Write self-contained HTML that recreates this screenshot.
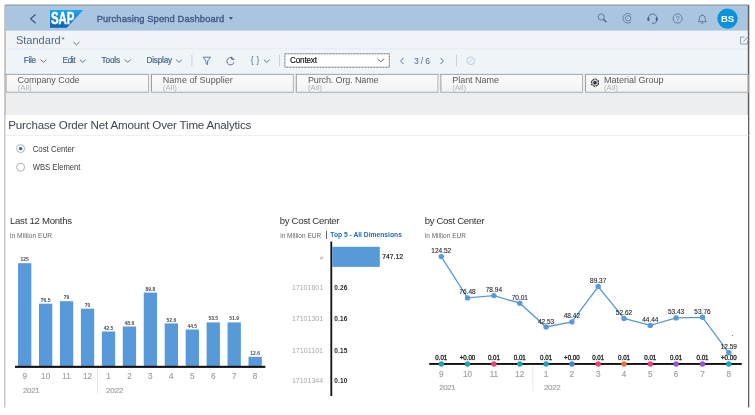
<!DOCTYPE html>
<html><head><meta charset="utf-8"><title>Purchasing Spend Dashboard</title>
<style>
html,body{margin:0;padding:0;background:#fff;}
body{width:755px;height:415px;position:relative;overflow:hidden;font-family:"Liberation Sans",sans-serif;}
#app{position:absolute;left:0;top:0;width:755px;height:415px;display:block;}
</style></head><body>
<svg id="app" width="755" height="415" viewBox="0 0 755 415" font-family="Liberation Sans, sans-serif">
<rect x="5.00" y="5.00" width="743.60" height="25.80" fill="#aac5e0"/>
<rect x="5.00" y="30.80" width="743.60" height="18.20" fill="#f0f4f9"/>
<rect x="5.00" y="49.00" width="743.60" height="25.00" fill="#eff4f9"/>
<rect x="5.00" y="48.20" width="743.60" height="1.00" fill="#e3ebf4"/>
<rect x="5.00" y="73.00" width="743.60" height="1.00" fill="#e0e9f3"/>
<rect x="5.00" y="74.00" width="743.60" height="41.00" fill="#edeef0"/>
<rect x="4.20" y="5.00" width="1.70" height="402.40" fill="#bdbdbd"/>
<rect x="5.00" y="4.50" width="743.60" height="1.00" fill="#8a8f96"/>
<rect x="747.80" y="5.00" width="1.50" height="402.40" fill="#5f5f5f"/>
<g transform="translate(28.00 12.00)"><path d="M7.6 2.4 L2.6 6.8 L7.6 11.2" fill="none" stroke="#3d5a85" stroke-width="1.3"/></g>
<g transform="translate(50.00 10.00)"><defs><linearGradient id="sg" x1="0" y1="0" x2="0" y2="1"><stop offset="0" stop-color="#1ba6ea"/><stop offset="1" stop-color="#0d60b8"/></linearGradient></defs><path d="M0 0 H33.2 L16.8 17.7 H0 Z" fill="url(#sg)"/><text x="0.9" y="14.3" font-family="Liberation Sans, sans-serif" font-weight="bold" font-size="15.6" fill="#fff" stroke="#fff" stroke-width="0.5" textLength="23.6" lengthAdjust="spacingAndGlyphs">SAP</text></g>
<text x="96.70" y="22" font-size="9.4" fill="#3d5a85" textLength="127.50" stroke="#3d5a85" stroke-width="0.35">Purchasing Spend Dashboard</text>
<g transform="translate(228.00 15.00)"><path d="M0.9 1.9 H4.9 L2.9 4.9 Z" fill="#3d5a85"/></g>
<g transform="translate(595.40 11.10)"><circle cx="5.8" cy="5.9" r="3.1" fill="none" stroke="#5b7596" stroke-width="0.9"/><path d="M8 8.2 L11 11.2" stroke="#46638f" stroke-width="1.3"/></g>
<g transform="translate(620.80 11.30)"><path d="M10.4 3.6 A4.8 4.8 0 1 0 10.4 10.4" fill="none" stroke="#5b7596" stroke-width="0.8"/><circle cx="7.4" cy="7" r="2.7" fill="none" stroke="#5b7596" stroke-width="0.8"/></g>
<g transform="translate(645.60 11.50)"><path d="M2.8 8 V6.6 A4.2 4.2 0 0 1 11.2 6.6 V8" fill="none" stroke="#5b7596" stroke-width="1"/><rect x="1.8" y="6" width="2" height="3.4" rx="0.7" fill="#46638f"/><rect x="10.2" y="6" width="2" height="3.4" rx="0.7" fill="#46638f"/><path d="M11.2 9.4 Q11 11.6 8 11.8" fill="none" stroke="#5b7596" stroke-width="0.9"/><circle cx="7.4" cy="11.8" r="0.9" fill="#5b7596"/></g>
<g transform="translate(670.60 11.50)"><circle cx="7" cy="7" r="4.6" fill="none" stroke="#5b7596" stroke-width="0.9"/><text x="7" y="9.6" text-anchor="middle" font-family="Liberation Sans, sans-serif" font-size="7" fill="#5b7596">?</text></g>
<g transform="translate(695.30 11.50)"><path d="M3 10.2 Q4.2 9 4.2 6.6 A2.8 2.8 0 0 1 9.8 6.6 Q9.8 9 11 10.2 Z" fill="none" stroke="#5b7596" stroke-width="0.9" stroke-linejoin="round"/><path d="M6 11.6 H8" stroke="#5b7596" stroke-width="1"/><path d="M7 2.6 V3.8" stroke="#5b7596" stroke-width="0.9"/></g>
<circle cx="727.5" cy="18.6" r="10.2" fill="#0b92db"/>
<text x="727.60" y="22" font-size="9.6" fill="#fff" text-anchor="middle" font-weight="bold">BS</text>
<text x="15.90" y="44" font-size="11" fill="#4d6789" textLength="44.80">Standard</text>
<text x="61.50" y="42" font-size="8" fill="#4d6789">*</text>
<g transform="translate(72.00 39.70)"><path d="M1.4 2.3 L4.4 5.2 L7.4 2.3" fill="none" stroke="#4d6789" stroke-width="0.9"/></g>
<g transform="translate(738.00 34.00)"><path d="M6.5 3 H2.5 V10 H9.5 V7" fill="none" stroke="#8298b6" stroke-width="0.9"/><path d="M5.5 7.5 L10.5 2.2" stroke="#8298b6" stroke-width="1"/></g>
<text x="23.80" y="63" font-size="8.2" fill="#4d6789" textLength="12.30" stroke="#4d6789" stroke-width="0.2">File</text>
<g transform="translate(38.50 56.00)"><path d="M2.1 3.7 L5 6.3 L7.9 3.7" fill="none" stroke="#4d6789" stroke-width="0.9"/></g>
<text x="62.60" y="63" font-size="8.2" fill="#4d6789" textLength="13.00" stroke="#4d6789" stroke-width="0.2">Edit</text>
<g transform="translate(77.80 56.00)"><path d="M2.1 3.7 L5 6.3 L7.9 3.7" fill="none" stroke="#4d6789" stroke-width="0.9"/></g>
<text x="101.50" y="63" font-size="8.2" fill="#4d6789" textLength="18.60" stroke="#4d6789" stroke-width="0.2">Tools</text>
<g transform="translate(122.70 56.00)"><path d="M2.1 3.7 L5 6.3 L7.9 3.7" fill="none" stroke="#4d6789" stroke-width="0.9"/></g>
<text x="146.50" y="63" font-size="8.2" fill="#4d6789" textLength="25.60" stroke="#4d6789" stroke-width="0.2">Display</text>
<g transform="translate(174.00 56.00)"><path d="M2.1 3.7 L5 6.3 L7.9 3.7" fill="none" stroke="#4d6789" stroke-width="0.9"/></g>
<rect x="191.50" y="54.50" width="0.80" height="12.00" fill="#c6cbd2"/>
<g transform="translate(200.00 54.00)"><path d="M3 3.2 H10.6 L7.6 7 V10.6 L6 9.6 V7 Z" fill="none" stroke="#4d6789" stroke-width="0.85" stroke-linejoin="round"/></g>
<g transform="translate(223.50 54.00)"><path d="M10.2 5.2 A3.7 3.7 0 1 0 10.6 8.3" fill="none" stroke="#4d6789" stroke-width="0.9"/><path d="M8.2 2.6 V5.4 H10.8" fill="none" stroke="#4d6789" stroke-width="0.9"/></g>
<text x="250.80" y="63" font-size="8.5" fill="#4d6789" textLength="8.50">{}</text>
<g transform="translate(261.80 56.00)"><path d="M2.1 3.7 L5 6.3 L7.9 3.7" fill="none" stroke="#4d6789" stroke-width="0.9"/></g>
<rect x="279.00" y="54.50" width="0.80" height="12.00" fill="#c6cbd2"/>
<rect x="284.90" y="53.80" width="104.40" height="13.40" fill="#fff" stroke="#555" stroke-width="0.9" stroke-dasharray="1 0.5"/>
<text x="290.00" y="63" font-size="8.2" fill="#111" textLength="27.00" stroke="#111" stroke-width="0.15">Context</text>
<g transform="translate(375.80 55.30)"><path d="M1.6 3.6 L5 6.4 L8.4 3.6" fill="none" stroke="#444" stroke-width="0.8"/></g>
<g transform="translate(397.00 54.00)"><path d="M6.4 4 L3.6 7 L6.4 10" fill="none" stroke="#4d6789" stroke-width="0.9"/></g>
<text x="414.00" y="64" font-size="8.5" fill="#4d6789" textLength="16.00">3/6</text>
<g transform="translate(437.00 54.00)"><path d="M3.6 4 L6.4 7 L3.6 10" fill="none" stroke="#4d6789" stroke-width="0.9"/></g>
<rect x="456.00" y="54.50" width="0.80" height="12.00" fill="#c6cbd2"/>
<g transform="translate(464.00 54.00)"><circle cx="6.8" cy="6.8" r="3.8" fill="none" stroke="#b6c6da" stroke-width="0.9"/><path d="M5 8.6 L8.6 5" stroke="#b6c6da" stroke-width="0.9"/></g>
<defs><linearGradient id="fg" x1="0" y1="0" x2="0" y2="1"><stop offset="0" stop-color="#fbfbfb"/><stop offset="1" stop-color="#f3f3f3"/></linearGradient></defs>
<rect x="5.50" y="74.00" width="143.50" height="18.60" fill="url(#fg)"/>
<rect x="5.50" y="74.00" width="143.50" height="0.90" fill="#a6a6a6"/>
<rect x="5.50" y="74.00" width="1.00" height="18.60" fill="#9c9c9c"/>
<rect x="148.00" y="74.00" width="1.00" height="18.60" fill="#b4b4b4"/>
<rect x="5.50" y="91.60" width="143.50" height="1.50" fill="#bcc0c4"/>
<text x="17.60" y="83" font-size="9" fill="#585858" textLength="62.00">Company Code</text>
<text x="17.60" y="90" font-size="8" fill="#b4b4b4" textLength="14.00">(All)</text>
<rect x="151.00" y="74.00" width="142.80" height="18.60" fill="url(#fg)"/>
<rect x="151.00" y="74.00" width="142.80" height="0.90" fill="#a6a6a6"/>
<rect x="151.00" y="74.00" width="1.00" height="18.60" fill="#9c9c9c"/>
<rect x="292.80" y="74.00" width="1.00" height="18.60" fill="#b4b4b4"/>
<rect x="151.00" y="91.60" width="142.80" height="1.50" fill="#bcc0c4"/>
<text x="162.80" y="83" font-size="9" fill="#585858" textLength="70.00">Name of Supplier</text>
<text x="162.80" y="90" font-size="8" fill="#b4b4b4" textLength="14.00">(All)</text>
<rect x="295.80" y="74.00" width="142.60" height="18.60" fill="url(#fg)"/>
<rect x="295.80" y="74.00" width="142.60" height="0.90" fill="#a6a6a6"/>
<rect x="295.80" y="74.00" width="1.00" height="18.60" fill="#9c9c9c"/>
<rect x="437.40" y="74.00" width="1.00" height="18.60" fill="#b4b4b4"/>
<rect x="295.80" y="91.60" width="142.60" height="1.50" fill="#bcc0c4"/>
<text x="308.00" y="83" font-size="9" fill="#585858" textLength="70.50">Purch. Org. Name</text>
<text x="308.00" y="90" font-size="8" fill="#b4b4b4" textLength="14.00">(All)</text>
<rect x="440.40" y="74.00" width="142.60" height="18.60" fill="url(#fg)"/>
<rect x="440.40" y="74.00" width="142.60" height="0.90" fill="#a6a6a6"/>
<rect x="440.40" y="74.00" width="1.00" height="18.60" fill="#9c9c9c"/>
<rect x="582.00" y="74.00" width="1.00" height="18.60" fill="#b4b4b4"/>
<rect x="440.40" y="91.60" width="142.60" height="1.50" fill="#bcc0c4"/>
<text x="452.20" y="83" font-size="9" fill="#585858" textLength="46.80">Plant Name</text>
<text x="452.20" y="90" font-size="8" fill="#b4b4b4" textLength="14.00">(All)</text>
<rect x="585.00" y="74.00" width="163.30" height="18.60" fill="url(#fg)"/>
<rect x="585.00" y="74.00" width="163.30" height="0.90" fill="#a6a6a6"/>
<rect x="585.00" y="74.00" width="1.00" height="18.60" fill="#9c9c9c"/>
<rect x="747.30" y="74.00" width="1.00" height="18.60" fill="#b4b4b4"/>
<rect x="585.00" y="91.60" width="163.30" height="1.50" fill="#bcc0c4"/>
<text x="604.00" y="83" font-size="9" fill="#585858" textLength="59.40">Material Group</text>
<text x="604.00" y="90" font-size="8" fill="#b4b4b4" textLength="14.00">(All)</text>
<g transform="translate(590.00 77.70)"><path d="M5 1.1 L8.4 3 V7 L5 8.9 L1.6 7 V3 Z" fill="#d8cfc4" stroke="#3a3a3a" stroke-width="1.1" stroke-dasharray="2.2 0.7"/><circle cx="5" cy="5" r="1.7" fill="#1d2a55"/><circle cx="3" cy="6.6" r="0.7" fill="#b0742a"/><circle cx="7.2" cy="4" r="0.6" fill="#4a7fd4"/></g>
<rect x="5.50" y="115.00" width="742.50" height="292.00" fill="#fff"/>
<text x="8.30" y="129" font-size="11.6" fill="#3e4350" textLength="243.10">Purchase Order Net Amount Over Time Analytics</text>
<rect x="5.50" y="135.00" width="743.00" height="0.80" fill="#ececec"/>
<g transform="translate(14.60 142.60)"><circle cx="6" cy="6" r="4" fill="#fff" stroke="#a6abb2" stroke-width="0.9"/><circle cx="6" cy="6" r="1.7" fill="#2d5e9e"/></g>
<text x="32.70" y="152" font-size="8.6" fill="#3c3c3c" textLength="41.80" lengthAdjust="spacingAndGlyphs">Cost Center</text>
<g transform="translate(14.60 161.20)"><circle cx="6" cy="6" r="4" fill="#fff" stroke="#a6abb2" stroke-width="0.9"/></g>
<text x="32.70" y="170" font-size="8.6" fill="#3c3c3c" textLength="47.80" lengthAdjust="spacingAndGlyphs">WBS Element</text>
<text x="10.00" y="224" font-size="9.6" fill="#333" textLength="62.00">Last 12 Months</text>
<text x="10.00" y="238" font-size="6.6" fill="#666" textLength="42.00">in Million EUR</text>
<rect x="18.05" y="263.20" width="13.30" height="103.80" fill="#5899da"/>
<text x="24.70" y="261" font-size="5" fill="#4a4a4a" text-anchor="middle" font-weight="bold">125</text>
<text x="24.70" y="379" font-size="8.2" fill="#a0a0a0" text-anchor="middle" stroke="#a0a0a0" stroke-width="0.15">9</text>
<rect x="39.00" y="303.70" width="13.30" height="63.30" fill="#5899da"/>
<text x="45.65" y="302" font-size="5" fill="#4a4a4a" text-anchor="middle" font-weight="bold">76.5</text>
<text x="45.65" y="379" font-size="8.2" fill="#a0a0a0" text-anchor="middle" stroke="#a0a0a0" stroke-width="0.15">10</text>
<rect x="59.95" y="301.20" width="13.30" height="65.80" fill="#5899da"/>
<text x="66.60" y="299" font-size="5" fill="#4a4a4a" text-anchor="middle" font-weight="bold">79</text>
<text x="66.60" y="379" font-size="8.2" fill="#a0a0a0" text-anchor="middle" stroke="#a0a0a0" stroke-width="0.15">11</text>
<rect x="80.90" y="308.70" width="13.30" height="58.30" fill="#5899da"/>
<text x="87.55" y="307" font-size="5" fill="#4a4a4a" text-anchor="middle" font-weight="bold">70</text>
<text x="87.55" y="379" font-size="8.2" fill="#a0a0a0" text-anchor="middle" stroke="#a0a0a0" stroke-width="0.15">12</text>
<rect x="101.85" y="331.50" width="13.30" height="35.50" fill="#5899da"/>
<text x="108.50" y="330" font-size="5" fill="#4a4a4a" text-anchor="middle" font-weight="bold">42.5</text>
<text x="108.50" y="379" font-size="8.2" fill="#a0a0a0" text-anchor="middle" stroke="#a0a0a0" stroke-width="0.15">1</text>
<rect x="122.80" y="326.50" width="13.30" height="40.50" fill="#5899da"/>
<text x="129.45" y="325" font-size="5" fill="#4a4a4a" text-anchor="middle" font-weight="bold">48.6</text>
<text x="129.45" y="379" font-size="8.2" fill="#a0a0a0" text-anchor="middle" stroke="#a0a0a0" stroke-width="0.15">2</text>
<rect x="143.75" y="292.60" width="13.30" height="74.40" fill="#5899da"/>
<text x="150.40" y="291" font-size="5" fill="#4a4a4a" text-anchor="middle" font-weight="bold">89.8</text>
<text x="150.40" y="379" font-size="8.2" fill="#a0a0a0" text-anchor="middle" stroke="#a0a0a0" stroke-width="0.15">3</text>
<rect x="164.70" y="323.40" width="13.30" height="43.60" fill="#5899da"/>
<text x="171.35" y="322" font-size="5" fill="#4a4a4a" text-anchor="middle" font-weight="bold">52.6</text>
<text x="171.35" y="379" font-size="8.2" fill="#a0a0a0" text-anchor="middle" stroke="#a0a0a0" stroke-width="0.15">4</text>
<rect x="185.65" y="329.50" width="13.30" height="37.50" fill="#5899da"/>
<text x="192.30" y="328" font-size="5" fill="#4a4a4a" text-anchor="middle" font-weight="bold">44.5</text>
<text x="192.30" y="379" font-size="8.2" fill="#a0a0a0" text-anchor="middle" stroke="#a0a0a0" stroke-width="0.15">5</text>
<rect x="206.60" y="322.40" width="13.30" height="44.60" fill="#5899da"/>
<text x="213.25" y="320" font-size="5" fill="#4a4a4a" text-anchor="middle" font-weight="bold">53.5</text>
<text x="213.25" y="379" font-size="8.2" fill="#a0a0a0" text-anchor="middle" stroke="#a0a0a0" stroke-width="0.15">6</text>
<rect x="227.55" y="322.40" width="13.30" height="44.60" fill="#5899da"/>
<text x="234.20" y="320" font-size="5" fill="#4a4a4a" text-anchor="middle" font-weight="bold">51.9</text>
<text x="234.20" y="379" font-size="8.2" fill="#a0a0a0" text-anchor="middle" stroke="#a0a0a0" stroke-width="0.15">7</text>
<rect x="248.50" y="356.80" width="13.30" height="10.20" fill="#5899da"/>
<text x="255.15" y="355" font-size="5" fill="#4a4a4a" text-anchor="middle" font-weight="bold">12.6</text>
<text x="255.15" y="379" font-size="8.2" fill="#a0a0a0" text-anchor="middle" stroke="#a0a0a0" stroke-width="0.15">8</text>
<rect x="15.00" y="365.80" width="250.30" height="2.10" fill="#111"/>
<rect x="97.00" y="368.00" width="0.60" height="25.00" fill="#d0d0d0"/>
<text x="23.00" y="393" font-size="8" fill="#a0a0a0" textLength="16.70" stroke="#a0a0a0" stroke-width="0.15">2021</text>
<text x="106.00" y="393" font-size="8" fill="#a0a0a0" textLength="17.50" stroke="#a0a0a0" stroke-width="0.15">2022</text>
<text x="279.80" y="224" font-size="9.6" fill="#333" textLength="59.70">by Cost Center</text>
<text x="280.20" y="238" font-size="6.5" fill="#666" textLength="41.00">in Million EUR</text>
<rect x="326.20" y="230.80" width="0.80" height="8.20" fill="#444"/>
<text x="330.30" y="237" font-size="6.9" fill="#1f69b3" font-weight="bold" textLength="71.60" lengthAdjust="spacingAndGlyphs">Top 5 - All Dimensions</text>
<rect x="330.40" y="241.50" width="1.80" height="154.50" fill="#111"/>
<rect x="332.20" y="246.80" width="47.60" height="20.10" fill="#5899da"/>
<text x="382.30" y="259" font-size="6.9" fill="#222" textLength="20.60" stroke="#222" stroke-width="0.2" lengthAdjust="spacingAndGlyphs">747.12</text>
<text x="323.10" y="260" font-size="6" fill="#b0b0b0" text-anchor="end">#</text>
<text x="291.90" y="290" font-size="6.6" fill="#a8a8a8" textLength="31.20" lengthAdjust="spacingAndGlyphs">17101601</text>
<text x="334.30" y="290" font-size="6.5" fill="#2a2a2a" font-weight="bold" textLength="13.00">0.26</text>
<text x="291.90" y="321" font-size="6.6" fill="#a8a8a8" textLength="31.20" lengthAdjust="spacingAndGlyphs">17101301</text>
<text x="334.30" y="321" font-size="6.5" fill="#2a2a2a" font-weight="bold" textLength="13.00">0.16</text>
<text x="291.90" y="353" font-size="6.6" fill="#a8a8a8" textLength="31.20" lengthAdjust="spacingAndGlyphs">17101101</text>
<text x="334.30" y="353" font-size="6.5" fill="#2a2a2a" font-weight="bold" textLength="13.00">0.15</text>
<text x="291.90" y="383" font-size="6.6" fill="#a8a8a8" textLength="31.20" lengthAdjust="spacingAndGlyphs">17101344</text>
<text x="334.30" y="383" font-size="6.5" fill="#2a2a2a" font-weight="bold" textLength="13.00">0.10</text>
<text x="424.70" y="224" font-size="9.6" fill="#333" textLength="59.70">by Cost Center</text>
<text x="424.70" y="238" font-size="6.5" fill="#666" textLength="41.30">in Million EUR</text>
<g transform="translate(415.00 205.00)"><polyline fill="none" stroke="#5899da" stroke-width="1.3" points="26.3,51.6 52.5,92.9 78.9,90.6 104.8,98.2 131.1,122.0 156.9,116.9 183.2,81.5 209.0,113.4 235.3,120.4 261.1,112.9 287.5,112.3 313.8,147.8"/><rect x="14.2" y="158" width="312.6" height="1.9" fill="#111"/><circle cx="26.3" cy="51.6" r="2.7" fill="#5899da"/><circle cx="26.3" cy="159" r="2.7" fill="#1aa5b8"/><circle cx="52.5" cy="92.9" r="2.7" fill="#5899da"/><circle cx="52.5" cy="159" r="2.7" fill="#1aa5b8"/><circle cx="78.9" cy="90.6" r="2.7" fill="#5899da"/><circle cx="78.9" cy="159" r="2.7" fill="#e8437a"/><circle cx="104.8" cy="98.2" r="2.7" fill="#5899da"/><circle cx="104.8" cy="159" r="2.7" fill="#1aa5b8"/><circle cx="131.1" cy="122.0" r="2.7" fill="#5899da"/><circle cx="131.1" cy="159" r="2.7" fill="#1aa5b8"/><circle cx="156.9" cy="116.9" r="2.7" fill="#5899da"/><circle cx="156.9" cy="159" r="2.7" fill="#4a7fd4"/><circle cx="183.2" cy="81.5" r="2.7" fill="#5899da"/><circle cx="183.2" cy="159" r="2.7" fill="#e8437a"/><circle cx="209.0" cy="113.4" r="2.7" fill="#5899da"/><circle cx="209.0" cy="159" r="2.7" fill="#e8743b"/><circle cx="235.3" cy="120.4" r="2.7" fill="#5899da"/><circle cx="235.3" cy="159" r="2.7" fill="#e8437a"/><circle cx="261.1" cy="112.9" r="2.7" fill="#5899da"/><circle cx="261.1" cy="159" r="2.7" fill="#9455d1"/><circle cx="287.5" cy="112.3" r="2.7" fill="#5899da"/><circle cx="287.5" cy="159" r="2.7" fill="#9455d1"/><circle cx="313.8" cy="147.8" r="2.7" fill="#5899da"/><circle cx="313.8" cy="159" r="2.7" fill="#1aa5b8"/><circle cx="317.3" cy="130.6" r="0.5" fill="#555"/></g>
<text x="441.30" y="253" font-size="7" fill="#2a2a2a" text-anchor="middle" textLength="19.91" stroke="#2a2a2a" stroke-width="0.12" lengthAdjust="spacingAndGlyphs">124.52</text>
<text x="441.30" y="360" font-size="6.5" fill="#222" text-anchor="middle" textLength="12.02" stroke="#222" stroke-width="0.3" lengthAdjust="spacingAndGlyphs">0.01</text>
<text x="441.30" y="377" font-size="8.2" fill="#a0a0a0" text-anchor="middle" stroke="#a0a0a0" stroke-width="0.15">9</text>
<text x="467.50" y="294" font-size="7" fill="#2a2a2a" text-anchor="middle" textLength="16.29" stroke="#2a2a2a" stroke-width="0.12" lengthAdjust="spacingAndGlyphs">76.48</text>
<text x="467.50" y="360" font-size="6.5" fill="#222" text-anchor="middle" textLength="15.62" stroke="#222" stroke-width="0.3" lengthAdjust="spacingAndGlyphs">+0.00</text>
<text x="467.50" y="377" font-size="8.2" fill="#a0a0a0" text-anchor="middle" stroke="#a0a0a0" stroke-width="0.15">10</text>
<text x="493.90" y="292" font-size="7" fill="#2a2a2a" text-anchor="middle" textLength="16.29" stroke="#2a2a2a" stroke-width="0.12" lengthAdjust="spacingAndGlyphs">78.94</text>
<text x="493.90" y="360" font-size="6.5" fill="#222" text-anchor="middle" textLength="12.02" stroke="#222" stroke-width="0.3" lengthAdjust="spacingAndGlyphs">0.01</text>
<text x="493.90" y="377" font-size="8.2" fill="#a0a0a0" text-anchor="middle" stroke="#a0a0a0" stroke-width="0.15">11</text>
<text x="519.80" y="300" font-size="7" fill="#2a2a2a" text-anchor="middle" textLength="16.29" stroke="#2a2a2a" stroke-width="0.12" lengthAdjust="spacingAndGlyphs">70.01</text>
<text x="519.80" y="360" font-size="6.5" fill="#222" text-anchor="middle" textLength="12.02" stroke="#222" stroke-width="0.3" lengthAdjust="spacingAndGlyphs">0.01</text>
<text x="519.80" y="377" font-size="8.2" fill="#a0a0a0" text-anchor="middle" stroke="#a0a0a0" stroke-width="0.15">12</text>
<text x="546.10" y="324" font-size="7" fill="#2a2a2a" text-anchor="middle" textLength="16.29" stroke="#2a2a2a" stroke-width="0.12" lengthAdjust="spacingAndGlyphs">42.53</text>
<text x="546.10" y="360" font-size="6.5" fill="#222" text-anchor="middle" textLength="12.02" stroke="#222" stroke-width="0.3" lengthAdjust="spacingAndGlyphs">0.01</text>
<text x="546.10" y="377" font-size="8.2" fill="#a0a0a0" text-anchor="middle" stroke="#a0a0a0" stroke-width="0.15">1</text>
<text x="571.90" y="318" font-size="7" fill="#2a2a2a" text-anchor="middle" textLength="16.29" stroke="#2a2a2a" stroke-width="0.12" lengthAdjust="spacingAndGlyphs">48.42</text>
<text x="571.90" y="360" font-size="6.5" fill="#222" text-anchor="middle" textLength="15.62" stroke="#222" stroke-width="0.3" lengthAdjust="spacingAndGlyphs">+0.00</text>
<text x="571.90" y="377" font-size="8.2" fill="#a0a0a0" text-anchor="middle" stroke="#a0a0a0" stroke-width="0.15">2</text>
<text x="598.20" y="283" font-size="7" fill="#2a2a2a" text-anchor="middle" textLength="16.29" stroke="#2a2a2a" stroke-width="0.12" lengthAdjust="spacingAndGlyphs">89.37</text>
<text x="598.20" y="360" font-size="6.5" fill="#222" text-anchor="middle" textLength="12.02" stroke="#222" stroke-width="0.3" lengthAdjust="spacingAndGlyphs">0.01</text>
<text x="598.20" y="377" font-size="8.2" fill="#a0a0a0" text-anchor="middle" stroke="#a0a0a0" stroke-width="0.15">3</text>
<text x="624.00" y="315" font-size="7" fill="#2a2a2a" text-anchor="middle" textLength="16.29" stroke="#2a2a2a" stroke-width="0.12" lengthAdjust="spacingAndGlyphs">52.62</text>
<text x="624.00" y="360" font-size="6.5" fill="#222" text-anchor="middle" textLength="12.02" stroke="#222" stroke-width="0.3" lengthAdjust="spacingAndGlyphs">0.01</text>
<text x="624.00" y="377" font-size="8.2" fill="#a0a0a0" text-anchor="middle" stroke="#a0a0a0" stroke-width="0.15">4</text>
<text x="650.30" y="322" font-size="7" fill="#2a2a2a" text-anchor="middle" textLength="16.29" stroke="#2a2a2a" stroke-width="0.12" lengthAdjust="spacingAndGlyphs">44.44</text>
<text x="650.30" y="360" font-size="6.5" fill="#222" text-anchor="middle" textLength="12.02" stroke="#222" stroke-width="0.3" lengthAdjust="spacingAndGlyphs">0.01</text>
<text x="650.30" y="377" font-size="8.2" fill="#a0a0a0" text-anchor="middle" stroke="#a0a0a0" stroke-width="0.15">5</text>
<text x="676.10" y="314" font-size="7" fill="#2a2a2a" text-anchor="middle" textLength="16.29" stroke="#2a2a2a" stroke-width="0.12" lengthAdjust="spacingAndGlyphs">53.43</text>
<text x="676.10" y="360" font-size="6.5" fill="#222" text-anchor="middle" textLength="12.02" stroke="#222" stroke-width="0.3" lengthAdjust="spacingAndGlyphs">0.01</text>
<text x="676.10" y="377" font-size="8.2" fill="#a0a0a0" text-anchor="middle" stroke="#a0a0a0" stroke-width="0.15">6</text>
<text x="702.50" y="314" font-size="7" fill="#2a2a2a" text-anchor="middle" textLength="16.29" stroke="#2a2a2a" stroke-width="0.12" lengthAdjust="spacingAndGlyphs">53.76</text>
<text x="702.50" y="360" font-size="6.5" fill="#222" text-anchor="middle" textLength="12.02" stroke="#222" stroke-width="0.3" lengthAdjust="spacingAndGlyphs">0.01</text>
<text x="702.50" y="377" font-size="8.2" fill="#a0a0a0" text-anchor="middle" stroke="#a0a0a0" stroke-width="0.15">7</text>
<text x="728.80" y="349" font-size="7" fill="#2a2a2a" text-anchor="middle" textLength="16.29" stroke="#2a2a2a" stroke-width="0.12" lengthAdjust="spacingAndGlyphs">12.59</text>
<text x="728.80" y="360" font-size="6.5" fill="#222" text-anchor="middle" textLength="15.62" stroke="#222" stroke-width="0.3" lengthAdjust="spacingAndGlyphs">+0.00</text>
<text x="728.80" y="377" font-size="8.2" fill="#a0a0a0" text-anchor="middle" stroke="#a0a0a0" stroke-width="0.15">8</text>
<rect x="532.60" y="366.00" width="0.60" height="25.00" fill="#d6d6d6"/>
<text x="439.30" y="390" font-size="8" fill="#a0a0a0" textLength="16.50" stroke="#a0a0a0" stroke-width="0.15">2021</text>
<text x="544.00" y="390" font-size="8" fill="#a0a0a0" textLength="16.80" stroke="#a0a0a0" stroke-width="0.15">2022</text>
</svg>
</body></html>
